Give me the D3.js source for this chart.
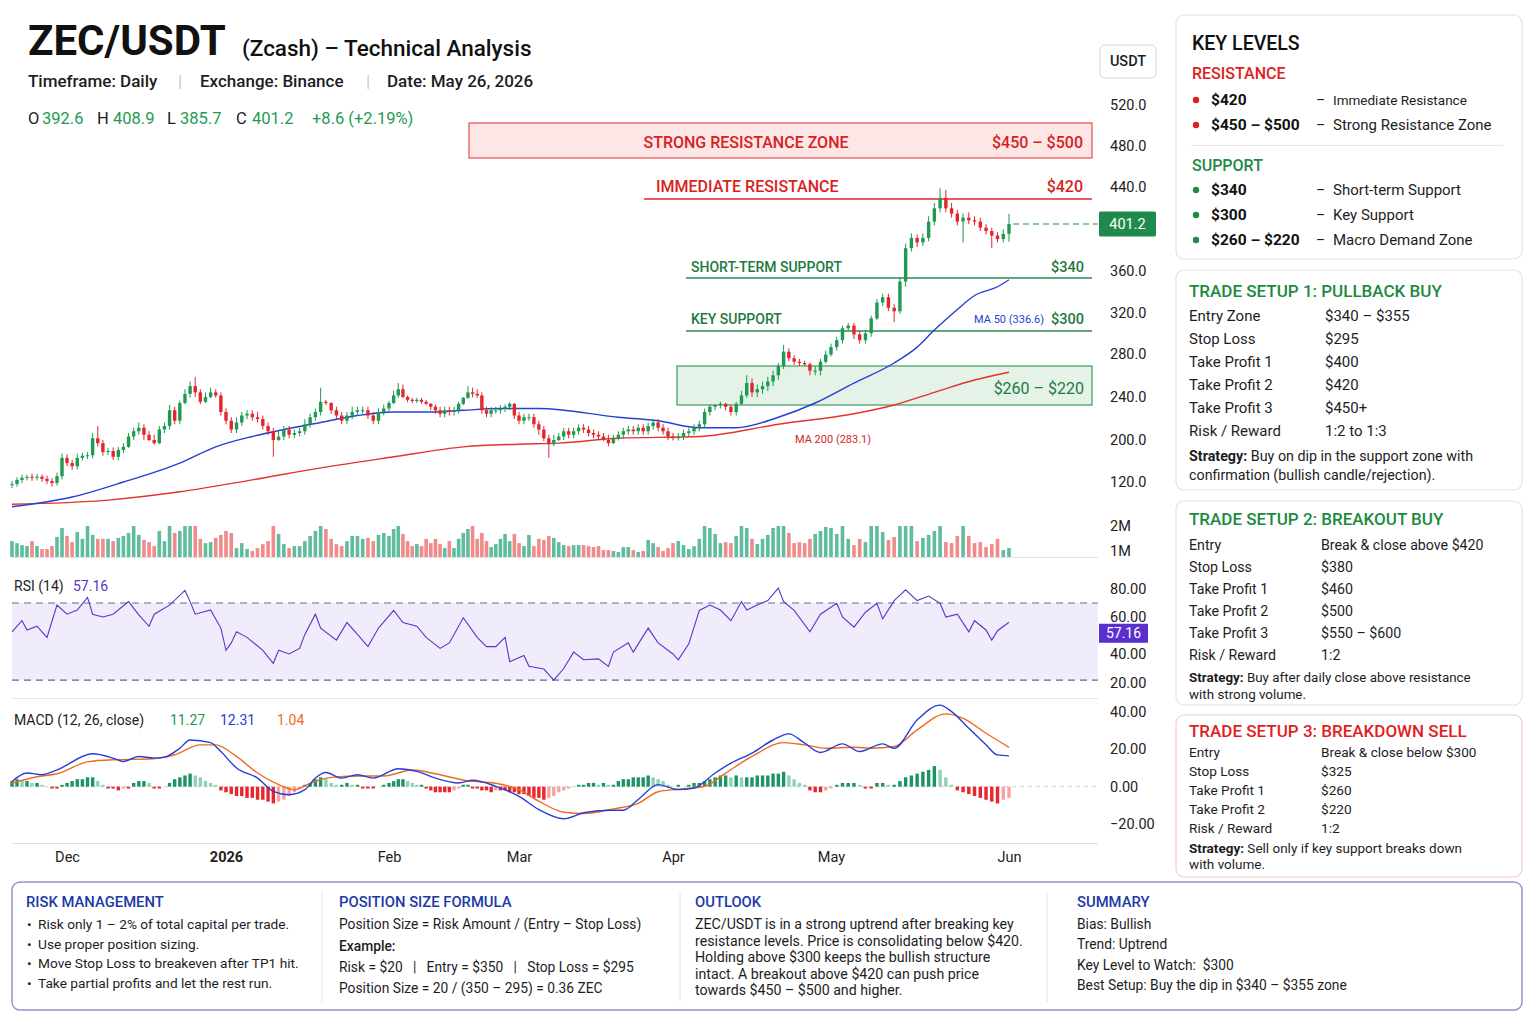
<!DOCTYPE html>
<html>
<head>
<meta charset="utf-8">
<script src="https://cdn.jsdelivr.net/npm/d3@7"></script>
<style>
  body { margin: 0; background: #fff; }
  svg { display: block; }
</style>
</head>
<body>
<div id="chart"></div>
<script>
// ==============================
// DATA
// ==============================

const START = new Date(2025, 10, 20);   // first candle: Nov 20, 2025
const firstOpen = 114;

// daily closes, one row per month (Nov 20 .. Jun 1)
const closes = [
  116,124,128,130,128,130,126,122,118,131,166,
  156,150,166,170,171,201,194,177,179,168,181,187,202,205,207,203,200,194,206,208,217,211,225,242,247,243,228,240,243,241,216,
  211,206,210,214,215,213,212,208,205,200,202,206,203,204,205,209,213,216,228,225,217,214,211,214,216,217,217,214,211,216,218,
  225,241,245,240,233,230,233,228,223,219,217,215,217,216,217,223,238,243,242,241,217,215,217,217,218,219,223,214,
  211,213,213,209,206,201,192,200,202,205,203,205,207,206,204,203,202,200,194,201,203,205,206,205,207,205,208,210,207,205,202,
  201,202,204,205,207,209,216,219,220,223,219,216,223,241,249,243,245,247,250,254,260,282,273,267,265,263,257,257,267,279,
  286,292,303,306,297,292,298,314,326,329,323,321,338,380,389,385,389,403,413,422,413,409,403,406,404,403,398,395,391,388,392.6,
  401.2
];

// upper / lower wick length above / below the body
const wickUp = [
  6,5,6,4,6,5,4,6,5,7,8,
  7,6,8,6,6,3,7,6,6,7,6,7,2,2,3,2,2,3,2,2,3,2,6,3,3,6,2,3,3,2,2,
  2,2,3,2,2,2,3,2,2,2,3,2,2,2,2,3,2,2,18,5,2,2,2,2,3,2,2,2,2,2,3,
  5,3,4,3,1,5,5,5,5,2,2,2,2,2,2,5,2,4,3,3,2,2,2,2,2,2,4,2,
  2,2,2,2,2,2,2,3,2,2,2,2,2,2,2,2,2,2,3,2,2,2,2,2,2,2,2,2,2,2,2,
  2,2,2,2,2,2,2,2,2,5,2,2,5,3,5,3,3,3,3,3,5,6,3,5,5,4,3,3,5,4,
  3,3,3,3,3,3,3,3,2,2,2,2,2,4,4,3,4,4,4,16,13,4,3,3,4,3,3,3,3,3,4,
  7.7
];
const wickDn = [
  6,5,6,5,6,5,6,6,7,5,6,
  6,7,6,5,6,6,6,7,6,6,7,6,2,2,2,3,2,3,2,2,2,2,2,3,3,3,6,3,3,3,2,
  2,2,2,2,2,2,2,2,2,32,2,2,2,2,2,2,2,2,2,5,2,2,2,2,2,2,2,2,2,2,2,
  2,3,3,3,6,5,5,5,3,2,2,2,2,2,2,2,3,3,3,3,2,2,2,2,2,2,2,2,
  2,2,2,2,3,3,26,4,2,2,2,2,2,2,2,2,2,2,6,2,2,2,2,2,2,2,2,2,2,2,2,
  2,2,2,2,2,2,2,2,2,2,2,2,2,3,3,3,3,3,3,3,3,2,5,5,5,3,3,3,3,3,
  3,3,3,3,4,3,3,3,2,2,2,11,2,3,3,4,3,3,3,3,3,3,3,18,3,3,3,3,11,3,3,
  6.9
];

// daily volume, millions
const volumes = [
  1.39,1.31,1.23,1.19,1.39,1.19,1.07,1.07,1.19,1.56,1.92,1.60,1.35,1.76,1.48,2.00,1.64,1.48,1.48,1.48,
  1.39,1.52,1.60,1.72,2.04,1.64,1.44,1.35,1.19,1.80,1.39,2.16,1.72,1.80,2.12,2.85,2.60,1.48,1.31,1.35,
  1.52,1.64,1.80,1.72,1.11,1.31,1.07,0.99,1.11,1.27,1.39,2.20,1.68,1.27,1.11,1.19,1.19,1.39,1.60,1.80,
  2.60,1.88,1.48,1.27,1.19,1.39,1.60,1.60,1.48,1.52,1.39,1.64,1.72,1.60,1.88,2.48,1.68,1.39,1.19,1.27,
  1.19,1.48,1.31,1.48,1.27,1.11,1.39,1.11,1.48,1.72,1.88,2.04,1.48,1.72,1.39,1.15,1.27,1.48,1.68,1.39,
  1.68,1.31,1.19,1.64,1.19,1.48,
  1.44,1.60,1.52,1.35,1.23,1.19,1.23,1.23,1.23,1.19,1.15,1.19,1.03,1.03,0.99,0.95,1.15,1.15,1.03,0.95,
  0.99,1.44,1.31,1.15,0.99,1.11,1.31,1.39,1.23,1.07,1.19,1.48,2.16,1.92,1.68,1.31,1.35,1.31,1.60,2.52,
  1.92,1.48,1.27,1.48,1.64,1.92,2.32,2.52,1.72,1.31,1.35,1.31,1.48,1.68,1.80,1.96,1.92,1.68,2.36,1.48,
  1.23,1.48,1.35,2.32,2.00,1.76,1.44,1.56,2.12,2.56,2.24,1.39,1.52,1.64,1.80,2.04,1.35,1.31,1.60,2.16,
  1.60,1.31,1.35,1.15,1.27,1.48,1.03,1.11
];

// moving averages: [day index, value]
const ma50Points = [
  [0,72],[12,91],[22,120],[33,156],[40,187],[47,202],[53,206],[60,210],[67,214],[74,216],[82,216],
  [89,217],[97,218],[105,218],[121,213],[129,211],[137,207],[144,207],[152,213],[159,225],[166,249],
  [173,265],[177,286],[180,301],[184,322],[187,330],[191,335],[193,339]
];
const ma200Points = [
  [0,77],[19,85],[33,101],[47,124],[60,147],[74,168],[89,187],[101,192],[109,194],[121,201],
  [137,202],[152,209],[166,215],[173,220],[180,243],[187,251],[193,256]
];

// RSI(14): [day index, value]
const rsiPoints = [
  [0,52],[2,58],[3,53],[5,55],[6,52],[7,49],[9,68.5],[11,62],[13,65],[15,74],[16,62],[18,60],[20,62],
  [23,71],[25,61.5],[27,55],[28,62],[31,68.5],[34,79],[35,71],[36,62],[39,65],[41,54],[42,42],[43,46],
  [44,52],[46,49],[49,42],[51,33.5],[52,42],[54,40],[56,43],[57,50.6],[59,62],[60,54],[63,47.5],[65,57],
  [67,50.6],[69,44],[71,54],[74,64.7],[76,57],[79,55],[81,49],[84,43],[86,46],[89,59.6],[92,49],[94,44],
  [96,44],[98,49],[99,34.7],[102,39],[103,31.5],[106,29.6],[108,22],[110,30],[112,41],[114,36],[117,36.6],
  [119,31.5],[120,41],[123,46],[124,41],[127,54],[129,46],[132,40],[133,36],[135,45.5],[137,64.7],[139,68.5],
  [141,65],[143,58],[145,71],[146,65],[148,68.5],[150,71.7],[152,80.6],[153,71],[155,64.7],[158,52],[160,62],
  [163,69.8],[164,60],[166,54.5],[168,63.4],[170,69.8],[171,59],[173,71.7],[175,79.4],[177,71.7],[179,75],
  [181,69.8],[182,60],[184,62],[186,52],[187,58],[189,53],[190,47.5],[191,52.6],[193,57.16]
];
const rsiBands = [70, 22];

// MACD line and signal: [day index, value]
const macdPoints = [
  [0,2.8],[3,7.3],[6,6.4],[9,9],[16,17.6],[20,15.3],[22,13.5],[25,16.2],[28,15.3],[30,15.8],[33,20.6],
  [35,25],[39,23.6],[41,18.8],[44,10],[48,4.6],[51,-2.5],[54,-4.3],[57,-1.6],[59,4.6],[61,7.6],[64,4.6],
  [67,6.4],[70,4.6],[75,9.6],[79,8.2],[83,4.6],[88,2],[91,3.4],[96,0.2],[101,-5.2],[105,-12.3],[110,-17.2],
  [114,-14],[119,-12.6],[122,-12.6],[125,-6.9],[129,1.1],[133,-1.6],[136,-0.7],[140,7.3],[143,12.6],[147,18],
  [151,25],[154,28.3],[157,23.3],[160,18.3],[164,22.9],[167,18.8],[171,22.9],[173,20.6],[177,35.7],[181,43.7],
  [183,40.2],[186,31.3],[189,22.4],[191,17],[193,16.5]
];
const signalPoints = [
  [0,1.8],[5,5.3],[9,6.9],[15,13.3],[20,14.4],[27,14.8],[32,17.1],[37,22.4],[40,22.4],[44,16.2],[48,7.3],
  [52,1.1],[55,-1.6],[58,1.8],[62,5],[68,5.7],[72,5.7],[78,8.9],[83,6.9],[90,3.1],[96,1.8],[101,-1.6],
  [105,-7.8],[110,-13.7],[114,-14.4],[120,-11.9],[125,-8.9],[129,-2.7],[133,-1.4],[138,0.2],[142,7.3],
  [147,16.2],[153,23.6],[157,22.4],[161,20.6],[166,21.1],[169,20.6],[173,21.5],[177,30.4],[182,39],
  [185,36.6],[189,28.6],[193,21.1]
];
// MACD histogram, one bar per day
const histValues = [
  3,4,3,3,2,2,1,0,-1,-1, 1,2,3,4,4,5,5,3,1,-1, -1,-2,-1,-1,2,3,3,2,-1,-1,
  0,2,4,5,6,7,6,5,3,2, 1,-2,-3,-4,-5,-5,-6,-6,-7,-7, -8,-9,-8,-7,-5,-3,-1,1,2,4,
  5,4,2,1,1,2,1,1,-1,-1, -1,0,1,2,3,4,4,3,2,1, 1,-1,-2,-3,-3,-3,-3,-2,-1,1,
  1,-1,-1,-2,-2,-3,-2,-2,-2,-3, -3,-4,-4,-5,-6,-6,-7,-6,-5,-3, -2,-1,0,1,1,2,2,1,2,1,
  1,3,4,4,5,5,5,6,5,4, 3,1,0,1,0,1,2,2,3,4, 5,6,6,5,6,5,5,5,6,6,
  6,7,7,8,6,4,2,1,-2,-3, -3,-2,-1,1,2,2,2,1,-1,-1, 2,2,1,1,3,5,6,7,8,9,
  11,9,5,1,-2,-3,-4,-5,-6,-7, -8,-9,-7,-6
];

// axes
const monthTicks = [new Date(2025,11,1), new Date(2026,0,1), new Date(2026,1,1), new Date(2026,2,1),
                    new Date(2026,3,1), new Date(2026,4,1), new Date(2026,5,1)];
const priceTicks = [120, 200, 240, 280, 320, 360, 440, 480, 520];
const volumeTicks = [1, 2];
const rsiTicks = [20, 40, 60, 80];
const macdTicks = [-20, 0, 20, 40];
// price axis as drawn in the picture (it is not evenly spaced)
const priceKnots   = [60, 120, 200, 220, 240, 260, 280, 300, 320, 340, 360, 401.2, 420, 440, 450, 480, 500, 520];
const priceKnotPos = [513, 482, 440, 405, 397, 366, 354, 331, 313, 278, 271, 224, 199, 187, 158, 146, 123, 105];

// side panels
const resistanceLevels = [["$420", "Immediate Resistance"], ["$450 – $500", "Strong Resistance Zone"]];
const supportLevels = [["$340", "Short-term Support"], ["$300", "Key Support"], ["$260 – $220", "Macro Demand Zone"]];
const setup1Rows = [["Entry Zone","$340 – $355"],["Stop Loss","$295"],["Take Profit 1","$400"],["Take Profit 2","$420"],["Take Profit 3","$450+"],["Risk / Reward","1:2 to 1:3"]];
const setup2Rows = [["Entry","Break & close above $420"],["Stop Loss","$380"],["Take Profit 1","$460"],["Take Profit 2","$500"],["Take Profit 3","$550 – $600"],["Risk / Reward","1:2"]];
const setup3Rows = [["Entry","Break & close below $300"],["Stop Loss","$325"],["Take Profit 1","$260"],["Take Profit 2","$220"],["Risk / Reward","1:2"]];

// ==============================
// SVG BASE
// ==============================

const FONT = "Roboto, 'Noto Sans', 'DejaVu Sans', sans-serif";
const GREEN = "#1f9a52", RED = "#e2262b", BLUE = "#2440d6", ORANGE = "#f06a1e", PURPLE = "#5a35c8";
const TXT = "#1d1d1f";

const svg = d3.select("#chart").append("svg")
  .attr("width", 1536).attr("height", 1024)
  .style("font-family", FONT)
  .style("background", "#fff");

function txt(g, x, y, s, o = {}) {
  return g.append("text")
    .attr("x", x).attr("y", y)
    .attr("font-size", o.size || 13)
    .attr("font-weight", o.weight || 400)
    .attr("fill", o.color || TXT)
    .attr("text-anchor", o.anchor || "start")
    .text(s);
}

const PL = 12, PR = 1098;

const dayDate = i => d3.timeDay.offset(START, i);
const x = d3.scaleTime()
  .domain([START, ...monthTicks])
  .range([12, 67, 226, 389, 519, 673, 831, 1009]);
const y = d3.scaleLinear().domain(priceKnots).range(priceKnotPos);
const vY = d3.scaleLinear().domain([0.75, 2]).range([557, 526]).clamp(true);
const rY = d3.scaleLinear().domain(rsiTicks).range([683, 654, 617, 589]);
const mY = d3.scaleLinear().domain([-20, 40]).range([824, 712]);

const candles = closes.map((c, i) => {
  const o = i === 0 ? firstOpen : closes[i - 1];
  return {
    date: dayDate(i), o, c,
    h: Math.max(o, c) + wickUp[i],
    l: Math.min(o, c) - wickDn[i],
    v: volumes[i]
  };
});
const last = candles[candles.length - 1];

// ==============================
// HEADER
// ==============================

const head = svg.append("g");
txt(head, 28, 55, "ZEC/USDT", { size: 42, weight: 700, color: "#111" });
txt(head, 242, 56, "(Zcash) – Technical Analysis", { size: 22.5, weight: 500, color: "#111" });
txt(head, 28, 87, "Timeframe: Daily", { size: 17, weight: 500 });
txt(head, 178, 87, "|", { size: 17, color: "#c9c9c9" });
txt(head, 200, 87, "Exchange: Binance", { size: 17, weight: 500 });
txt(head, 366, 87, "|", { size: 17, color: "#c9c9c9" });
txt(head, 387, 87, "Date: May 26, 2026", { size: 17, weight: 500 });

const f1 = d3.format(".1f");
const chg = last.c - last.o;
[["O", 28, last.o, 42], ["H", 97, last.h, 113], ["L", 167, last.l, 180], ["C", 236, last.c, 252]]
  .forEach(([k, lx, v, vx]) => {
    txt(head, lx, 124, k, { size: 16.5 });
    txt(head, vx, 124, f1(v), { size: 16.5, color: GREEN });
  });
txt(head, 312, 124, `+${f1(chg)} (+${d3.format(".2f")(chg / last.o * 100)}%)`, { size: 16.5, color: GREEN });

// ==============================
// PRICE PANEL: ZONES AND LEVELS
// ==============================

const price = svg.append("g");

price.append("rect")
  .attr("x", 469).attr("width", PR - 6 - 469)
  .attr("y", y(500)).attr("height", y(450) - y(500))
  .attr("fill", "#fde6e6").attr("stroke", "#e84b4b").attr("stroke-width", 1.2);
price.append("rect")
  .attr("x", 677).attr("width", PR - 6 - 677)
  .attr("y", y(260)).attr("height", y(220) - y(260))
  .attr("fill", "#e4f2e7").attr("stroke", "#3c9a5f").attr("stroke-width", 1.2);

[[420, 644, RED], [340, 686, "#2f8a55"], [300, 686, "#2f8a55"]].forEach(([v, x0, col]) => {
  price.append("line")
    .attr("x1", x0).attr("x2", PR - 6)
    .attr("y1", y(v)).attr("y2", y(v))
    .attr("stroke", col).attr("stroke-width", 1.6);
});

// moving averages
const maLine = d3.line()
  .x(d => x(dayDate(d[0])))
  .y(d => y(d[1]))
  .curve(d3.curveMonotoneX);
price.append("path").attr("d", maLine(ma200Points))
  .attr("fill", "none").attr("stroke", "#e3342b").attr("stroke-width", 1.4);
price.append("path").attr("d", maLine(ma50Points))
  .attr("fill", "none").attr("stroke", BLUE).attr("stroke-width", 1.4);

// candles
const cw = 3.4;
const cg = price.append("g");
cg.selectAll("line")
  .data(candles)
  .join("line")
  .attr("x1", d => x(d.date)).attr("x2", d => x(d.date))
  .attr("y1", d => y(d.h)).attr("y2", d => y(d.l))
  .attr("stroke", d => d.c >= d.o ? GREEN : RED)
  .attr("stroke-width", 1);
cg.selectAll("rect")
  .data(candles)
  .join("rect")
  .attr("x", d => x(d.date) - cw / 2)
  .attr("width", cw)
  .attr("y", d => y(Math.max(d.o, d.c)))
  .attr("height", d => Math.max(1, y(Math.min(d.o, d.c)) - y(Math.max(d.o, d.c))))
  .attr("fill", d => d.c >= d.o ? GREEN : RED);

// level labels
txt(price, 746, 148, "STRONG RESISTANCE ZONE", { size: 16, weight: 500, color: "#d81f22", anchor: "middle" });
txt(price, 1083, 148, "$450 – $500", { size: 16, weight: 500, color: "#d81f22", anchor: "end" });
txt(price, 656, 192, "IMMEDIATE RESISTANCE", { size: 16, weight: 500, color: "#d81f22" });
txt(price, 1083, 192, "$420", { size: 16, weight: 500, color: "#d81f22", anchor: "end" });
txt(price, 691, 272, "SHORT-TERM SUPPORT", { size: 14, weight: 500, color: "#1d7a3e" });
txt(price, 1084, 272, "$340", { size: 14.5, weight: 500, color: "#1d7a3e", anchor: "end" });
txt(price, 691, 324, "KEY SUPPORT", { size: 14, weight: 500, color: "#1d7a3e" });
txt(price, 1084, 324, "$300", { size: 14.5, weight: 500, color: "#1d7a3e", anchor: "end" });
txt(price, 1044, 323, "MA 50 (336.6)", { size: 11, color: BLUE, anchor: "end" });
txt(price, 1084, 394, "$260 – $220", { size: 16, color: "#1d7a3e", anchor: "end" });
txt(price, 795, 443, "MA 200 (283.1)", { size: 11, color: "#d8261f" });

// current price
price.append("line")
  .attr("x1", x(last.date) + 4).attr("x2", PR)
  .attr("y1", y(last.c)).attr("y2", y(last.c))
  .attr("stroke", GREEN).attr("stroke-width", 1.2).attr("stroke-dasharray", "6,4");
price.append("rect")
  .attr("x", 1099).attr("y", y(last.c) - 12.5).attr("width", 57).attr("height", 25)
  .attr("fill", "#1f8a4c").attr("rx", 1.5);
txt(price, 1127.5, y(last.c) + 5, f1(last.c), { size: 14.5, color: "#fff", anchor: "middle" });

// USDT box
price.append("rect")
  .attr("x", 1100).attr("y", 45).attr("width", 56).attr("height", 33).attr("rx", 5)
  .attr("fill", "#fff").attr("stroke", "#d6d6d6");
txt(price, 1128, 66, "USDT", { size: 14.5, weight: 500, anchor: "middle" });

// ==============================
// VOLUME
// ==============================

const vol = svg.append("g");
vol.selectAll("rect")
  .data(candles)
  .join("rect")
  .attr("x", d => x(d.date) - 1.8)
  .attr("width", 3.6)
  .attr("y", d => vY(d.v))
  .attr("height", d => vY(0.75) - vY(d.v))
  .attr("fill", d => d.c >= d.o ? "#4fb594" : "#ef7d7d")
  .attr("opacity", 0.9);
vol.append("line").attr("x1", PL).attr("x2", PR).attr("y1", 557.5).attr("y2", 557.5)
  .attr("stroke", "#e2e2e2");

// ==============================
// RSI
// ==============================

const rsi = svg.append("g");
rsi.append("rect")
  .attr("x", PL).attr("width", PR - PL)
  .attr("y", rY(rsiBands[0])).attr("height", rY(rsiBands[1]) - rY(rsiBands[0]))
  .attr("fill", "#f1ecfb");
rsiBands.forEach(b => {
  rsi.append("line").attr("x1", PL).attr("x2", PR).attr("y1", rY(b)).attr("y2", rY(b))
    .attr("stroke", "#6d6499").attr("stroke-width", 1.2).attr("stroke-dasharray", "7,5");
});
rsi.append("path")
  .attr("d", d3.line().x(d => x(dayDate(d[0]))).y(d => rY(d[1]))(rsiPoints))
  .attr("fill", "none").attr("stroke", PURPLE).attr("stroke-width", 1.1);
const rsiLast = rsiPoints[rsiPoints.length - 1][1];
txt(rsi, 14, 591, "RSI (14)", { size: 14 });
txt(rsi, 73, 591, d3.format(".2f")(rsiLast), { size: 14, color: PURPLE });
rsi.append("rect").attr("x", 1099).attr("y", rY(rsiLast) + 1.5).attr("width", 49).attr("height", 19)
  .attr("fill", "#5a2fd0");
txt(rsi, 1123.5, rY(rsiLast) + 16, d3.format(".2f")(rsiLast), { size: 14, color: "#fff", anchor: "middle" });
svg.append("line").attr("x1", PL).attr("x2", PR).attr("y1", 698.5).attr("y2", 698.5).attr("stroke", "#e6e6e6");

// ==============================
// MACD
// ==============================

const macd = svg.append("g");
macd.append("line").attr("x1", PL).attr("x2", PR).attr("y1", mY(0)).attr("y2", mY(0))
  .attr("stroke", "#cfcfcf").attr("stroke-dasharray", "4,4");
macd.selectAll("rect")
  .data(histValues.map((v, i) => ({ v, prev: i ? histValues[i - 1] : 0, date: dayDate(i) })))
  .join("rect")
  .attr("x", d => x(d.date) - 1.7)
  .attr("width", 3.4)
  .attr("y", d => mY(Math.max(0, d.v)))
  .attr("height", d => Math.abs(mY(d.v) - mY(0)))
  .attr("fill", d => d.v >= 0 ? (d.v >= d.prev ? "#1d9463" : "#8fd2b5")
                              : (d.v <= d.prev ? "#e8262b" : "#f5a4a4"));
const mLine = d3.line().x(d => x(dayDate(d[0]))).y(d => mY(d[1])).curve(d3.curveMonotoneX);
macd.append("path").attr("d", mLine(signalPoints))
  .attr("fill", "none").attr("stroke", ORANGE).attr("stroke-width", 1.4);
macd.append("path").attr("d", mLine(macdPoints))
  .attr("fill", "none").attr("stroke", BLUE).attr("stroke-width", 1.4);
txt(macd, 14, 725, "MACD (12, 26, close)", { size: 14 });
txt(macd, 170, 725, "11.27", { size: 14, color: GREEN });
txt(macd, 220, 725, "12.31", { size: 14, color: BLUE });
txt(macd, 277, 725, "1.04", { size: 14, color: ORANGE });
svg.append("line").attr("x1", PL).attr("x2", PR).attr("y1", 843.5).attr("y2", 843.5).attr("stroke", "#e0e0e0");

// ==============================
// AXES
// ==============================

function rightAxis(scale, ticks, fmt) {
  const g = svg.append("g").attr("transform", "translate(1110,0)")
    .call(d3.axisRight(scale).tickValues(ticks).tickFormat(fmt).tickSize(0).tickPadding(0));
  g.select(".domain").remove();
  g.attr("font-size", 14.5).attr("font-family", FONT);
  g.selectAll("text").attr("fill", "#222");
}
rightAxis(y, priceTicks, d3.format(".1f"));
rightAxis(vY, volumeTicks, d => d + "M");
rightAxis(rY, rsiTicks, d3.format(".2f"));
rightAxis(mY, macdTicks, d3.format(".2f"));

const xa = svg.append("g").attr("transform", "translate(0,848)")
  .call(d3.axisBottom(x).tickValues(monthTicks)
    .tickFormat(d => d.getMonth() === 0 ? d3.timeFormat("%Y")(d) : d3.timeFormat("%b")(d))
    .tickSize(0).tickPadding(4));
xa.select(".domain").remove();
xa.attr("font-size", 14.5).attr("font-family", FONT);
xa.selectAll("text").attr("fill", "#222")
  .attr("font-weight", d => d.getMonth() === 0 ? 700 : 400);

// ==============================
// SIDE PANELS
// ==============================

const side = svg.append("g");
function card(x0, y0, w, h, stroke) {
  side.append("rect").attr("x", x0).attr("y", y0).attr("width", w).attr("height", h)
    .attr("rx", 8).attr("fill", "#fff").attr("stroke", stroke || "#e3e3e3").attr("stroke-width", 1.2);
}

card(1176, 15, 346, 244);
txt(side, 1192, 50, "KEY LEVELS", { size: 19.5, weight: 500, color: "#111" });
txt(side, 1192, 79, "RESISTANCE", { size: 16, weight: 500, color: "#e01e22" });
resistanceLevels.forEach(([lv, desc], i) => {
  const by = 100 + i * 25;
  side.append("circle").attr("cx", 1196).attr("cy", by).attr("r", 3.2).attr("fill", "#e01e22");
  txt(side, 1211, by + 5, lv, { size: 15.5, weight: 700, color: "#111" });
  txt(side, 1316, by + 5, "–", { size: 14 });
  txt(side, 1333, by + 5, desc, { size: i ? 15 : 13.5 });
});
side.append("line").attr("x1", 1191).attr("x2", 1503).attr("y1", 145.5).attr("y2", 145.5).attr("stroke", "#e8e8e8");
txt(side, 1192, 171, "SUPPORT", { size: 16, weight: 500, color: "#1e8a45" });
supportLevels.forEach(([lv, desc], i) => {
  const by = 190 + i * 25;
  side.append("circle").attr("cx", 1196).attr("cy", by).attr("r", 3.2).attr("fill", "#1e8a45");
  txt(side, 1211, by + 5, lv, { size: 15.5, weight: 700, color: "#111" });
  txt(side, 1316, by + 5, "–", { size: 14 });
  txt(side, 1333, by + 5, desc, { size: 15 });
});

function setupCard(o) {
  card(1176, o.top, 346, o.height, o.stroke);
  txt(side, 1189, o.titleY, o.title, { size: 17, weight: 500, color: o.color });
  o.rows.forEach(([k, v], i) => {
    const ry = o.rowY + i * o.step;
    txt(side, 1189, ry, k, { size: o.size });
    txt(side, o.valX, ry, v, { size: o.size });
  });
  o.strategy.forEach((line, i) => {
    const t = txt(side, 1189, o.stratY + i * o.stratStep, "", { size: o.stratSize });
    if (i === 0) {
      t.append("tspan").attr("font-weight", 700).text("Strategy:");
      t.append("tspan").text(" " + line);
    } else t.text(line);
  });
}
setupCard({ top: 270, height: 220, title: "TRADE SETUP 1: PULLBACK BUY", color: "#1a8a3e", titleY: 297,
  rows: setup1Rows, rowY: 321, step: 23, valX: 1325, size: 15,
  strategy: ["Buy on dip in the support zone with", "confirmation (bullish candle/rejection)."], stratY: 461, stratStep: 19, stratSize: 14.3 });
setupCard({ top: 501, height: 204, title: "TRADE SETUP 2: BREAKOUT BUY", color: "#1a8a3e", titleY: 525,
  rows: setup2Rows, rowY: 550, step: 22, valX: 1321, size: 14.2,
  strategy: ["Buy after daily close above resistance", "with strong volume."], stratY: 682, stratStep: 17, stratSize: 13.4 });
setupCard({ top: 715, height: 162, title: "TRADE SETUP 3: BREAKDOWN SELL", color: "#e01e22", titleY: 737, stroke: "#f2cccc",
  rows: setup3Rows, rowY: 757, step: 19, valX: 1321, size: 13.6,
  strategy: ["Sell only if key support breaks down", "with volume."], stratY: 853, stratStep: 16, stratSize: 13.5 });

// ==============================
// BOTTOM INFO BAR
// ==============================

const foot = svg.append("g");
foot.append("rect").attr("x", 12).attr("y", 882).attr("width", 1510).attr("height", 128).attr("rx", 8)
  .attr("fill", "#fff").attr("stroke", "#8f98d2").attr("stroke-width", 1.5);
[322, 680, 1047].forEach(dx => foot.append("line").attr("x1", dx).attr("x2", dx)
  .attr("y1", 892).attr("y2", 1002).attr("stroke", "#e4e4e4"));
const NAVY = "#1c3aa6";
txt(foot, 26, 907, "RISK MANAGEMENT", { size: 14.8, weight: 500, color: NAVY });
["Risk only 1 – 2% of total capital per trade.", "Use proper position sizing.",
 "Move Stop Loss to breakeven after TP1 hit.", "Take partial profits and let the rest run."]
  .forEach((s, i) => {
    txt(foot, 27, 929 + i * 19.7, "•", { size: 13.7 });
    txt(foot, 38, 929 + i * 19.7, s, { size: 13.7 });
  });
txt(foot, 339, 907, "POSITION SIZE FORMULA", { size: 14.8, weight: 500, color: NAVY });
txt(foot, 339, 929, "Position Size = Risk Amount / (Entry – Stop Loss)", { size: 13.8 });
txt(foot, 339, 951, "Example:", { size: 13.8, weight: 500 });
txt(foot, 339, 972, "Risk = $20   |   Entry = $350   |   Stop Loss = $295", { size: 13.8 }).style("white-space", "pre");
txt(foot, 339, 993, "Position Size = 20 / (350 – 295) = 0.36 ZEC", { size: 13.8 });
txt(foot, 695, 907, "OUTLOOK", { size: 14.8, weight: 500, color: NAVY });
["ZEC/USDT is in a strong uptrend after breaking key", "resistance levels. Price is consolidating below $420.",
 "Holding above $300 keeps the bullish structure", "intact. A breakout above $420 can push price",
 "towards $450 – $500 and higher."]
  .forEach((s, i) => txt(foot, 695, 929 + i * 16.6, s, { size: 14.2 }));
txt(foot, 1077, 907, "SUMMARY", { size: 14.8, weight: 500, color: NAVY });
["Bias: Bullish", "Trend: Uptrend", "Key Level to Watch:  $300", "Best Setup: Buy the dip in $340 – $355 zone"]
  .forEach((s, i) => txt(foot, 1077, 929 + i * 20.3, s, { size: 13.8 }).style("white-space", "pre"));
</script>
</body>
</html>
